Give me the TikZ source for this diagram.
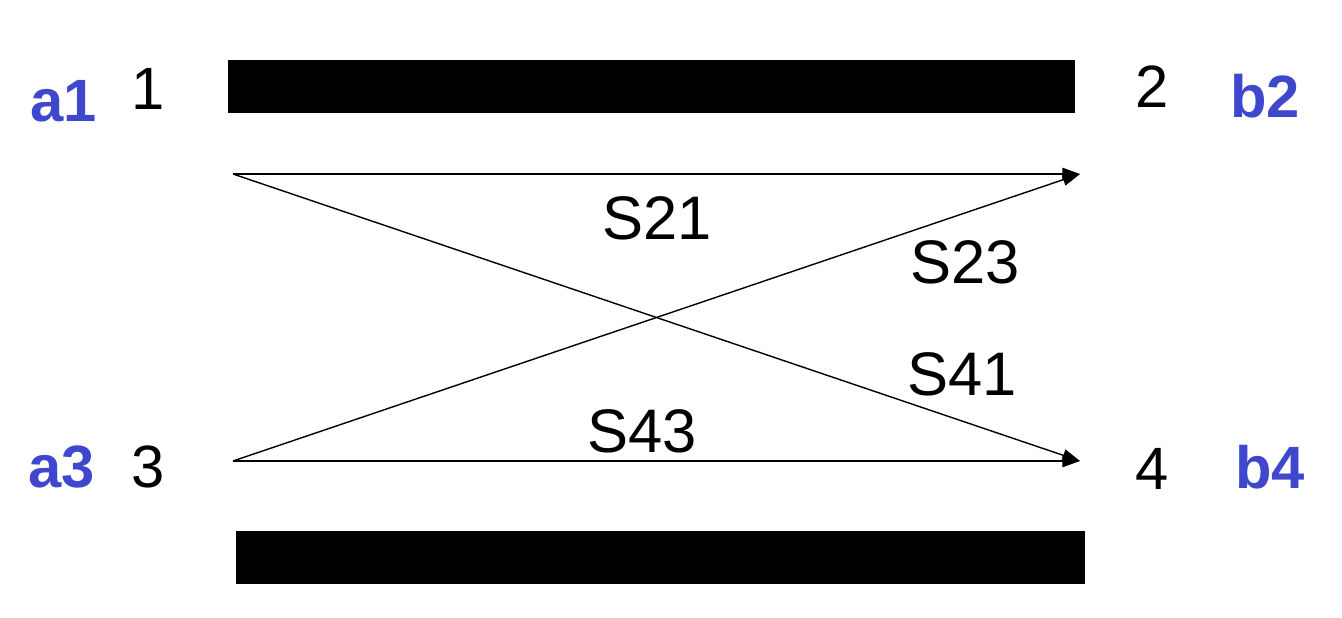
\documentclass[tikz,border=0pt]{standalone}
\usepackage{fontspec}
\setmainfont{Liberation Sans}
\usetikzlibrary{arrows.meta}
\definecolor{lbl}{HTML}{3F48CC}
\begin{document}
\begin{tikzpicture}[x=0.02cm,y=-0.02cm,
  num/.style={font=\fontsize{34}{40}\selectfont},
  port/.style={font=\fontsize{34}{40}\selectfont\bfseries,text=lbl},
  sl/.style={font=\fontsize{35}{40}\selectfont},
  conn/.style={-{Triangle[length=10pt,width=7pt]},line width=0.8pt}]
\useasboundingbox (0,0) rectangle (1342,618);
\fill (228,60) rectangle (1075,113);
\fill (236,531) rectangle (1085,584);
\node[port] (a1) at (64,101) {a1};
\node[num] (n1) at (148,89) {1};
\node[num] (n2) at (1152,87) {2};
\node[port] (b2) at (1265,96) {b2};
\node[port] (a3) at (62,467) {a3};
\node[num] (n3) at (148,467) {3};
\node[num] (n4) at (1152,469) {4};
\node[port] (b4) at (1270,467) {b4};
\coordinate (p1) at (233,174);
\coordinate (p3) at (233,461);
\coordinate (q2) at (1080,174);
\coordinate (q4) at (1080,461);
\draw[conn] (p1) -- (q2);
\draw[conn] (p1) -- (q4);
\draw[conn] (p3) -- (q4);
\draw[conn] (p3) -- (q2);
\node[sl] (s21) at (657,218) {S21};
\node[sl] (s23) at (965,262) {S23};
\node[sl] (s41) at (962,374) {S41};
\node[sl] (s43) at (642,431) {S43};
\end{tikzpicture}
\end{document}
